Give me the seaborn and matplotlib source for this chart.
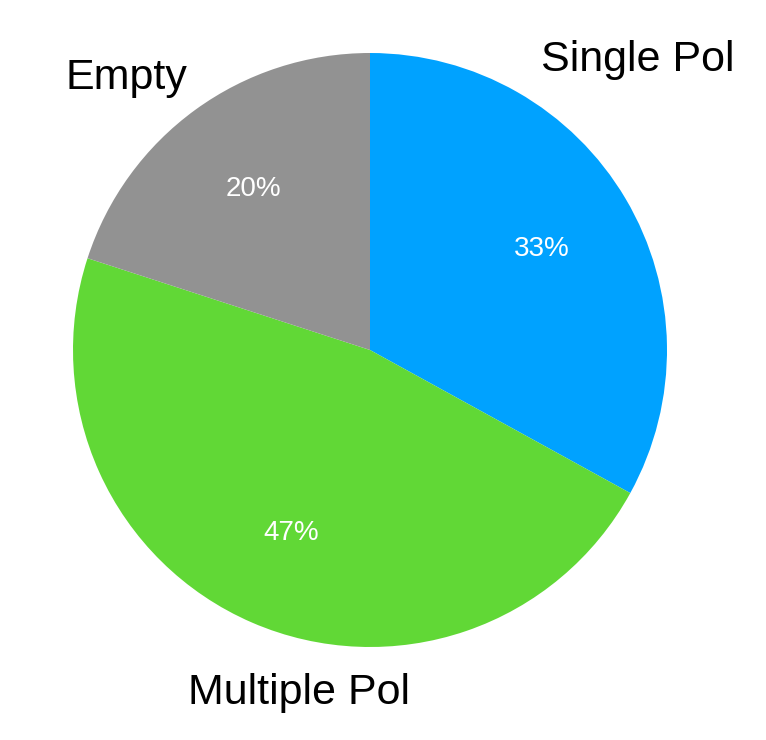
import matplotlib
matplotlib.use("Agg")
import matplotlib.pyplot as plt
import seaborn as sns

# pie data
categories = ["Single Pol", "Multiple Pol", "Empty"]
shares = [33, 47, 20]
colors = ["#00A2FF", "#61D836", "#929292"]

sns.set_style("white")
plt.rcParams['font.family'] = ['Liberation Sans', 'DejaVu Sans']

fig = plt.figure(figsize=(7.66, 7.40), dpi=100)
ax = fig.add_axes([73 / 766, 93 / 740, 594 / 766, 594 / 740])

wedges, texts, autotexts = ax.pie(shares, colors=colors, startangle=90,
                                  counterclock=False, autopct='%d%%',
                                  pctdistance=0.67, radius=1,
                                  wedgeprops=dict(linewidth=0))
for t in autotexts:
    t.set_color("white")
    t.set_fontsize(20)

# outside labels
label_pos = {"Single Pol": (0.90, 0.975), "Empty": (-0.82, 0.915),
             "Multiple Pol": (-0.24, -1.155)}
for name in categories:
    x, y = label_pos[name]
    ax.text(x, y, name, ha="center", va="center", fontsize=31, color="black")

ax.set_xlim(-1, 1)
ax.set_ylim(-1, 1)
ax.axis("off")

fig.savefig("out.png", dpi=100)
